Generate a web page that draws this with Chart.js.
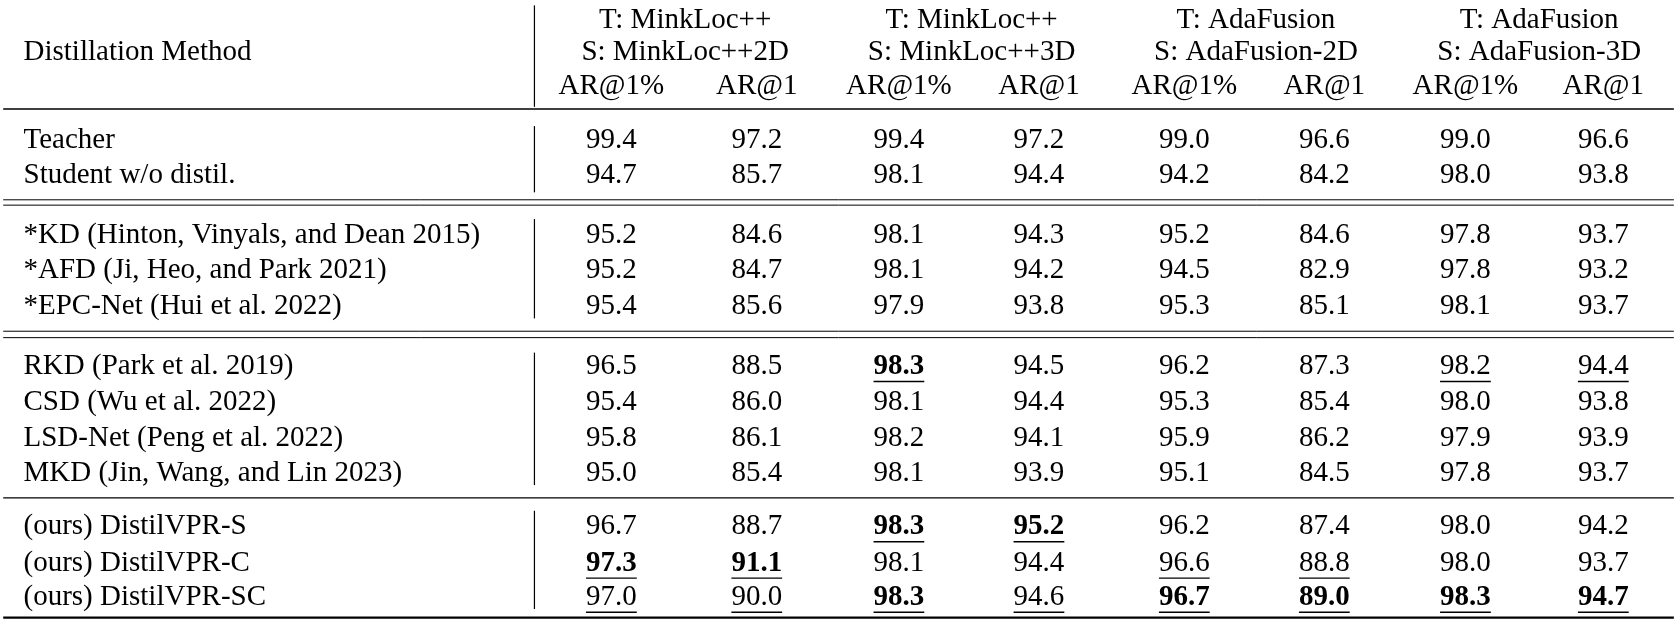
<!DOCTYPE html>
<html><head><meta charset="utf-8">
<script src="https://cdn.jsdelivr.net/npm/chart.js@4/dist/chart.umd.min.js"></script>
<style>html,body{margin:0;padding:0;background:#fff}#w{width:1676px;height:624px}</style>
</head><body><div id="w"><canvas id="c"></canvas></div>
<script>
const methods = ["Teacher","Student w/o distil.","*KD (Hinton, Vinyals, and Dean 2015)","*AFD (Ji, Heo, and Park 2021)","*EPC-Net (Hui et al. 2022)","RKD (Park et al. 2019)","CSD (Wu et al. 2022)","LSD-Net (Peng et al. 2022)","MKD (Jin, Wang, and Lin 2023)","(ours) DistilVPR-S","(ours) DistilVPR-C","(ours) DistilVPR-SC"];
const groups = [["T: MinkLoc++","S: MinkLoc++2D"],["T: MinkLoc++","S: MinkLoc++3D"],["T: AdaFusion","S: AdaFusion-2D"],["T: AdaFusion","S: AdaFusion-3D"]];
const metrics = ["AR@1%","AR@1"];
const values = [
 [99.4,97.2,99.4,97.2,99.0,96.6,99.0,96.6],
 [94.7,85.7,98.1,94.4,94.2,84.2,98.0,93.8],
 [95.2,84.6,98.1,94.3,95.2,84.6,97.8,93.7],
 [95.2,84.7,98.1,94.2,94.5,82.9,97.8,93.2],
 [95.4,85.6,97.9,93.8,95.3,85.1,98.1,93.7],
 [96.5,88.5,98.3,94.5,96.2,87.3,98.2,94.4],
 [95.4,86.0,98.1,94.4,95.3,85.4,98.0,93.8],
 [95.8,86.1,98.2,94.1,95.9,86.2,97.9,93.9],
 [95.0,85.4,98.1,93.9,95.1,84.5,97.8,93.7],
 [96.7,88.7,98.3,95.2,96.2,87.4,98.0,94.2],
 [97.3,91.1,98.1,94.4,96.6,88.8,98.0,93.7],
 [97.0,90.0,98.3,94.6,96.7,89.0,98.3,94.7]
];
const marks = [
 ["","","","","","","",""],["","","","","","","",""],
 ["","","","","","","",""],["","","","","","","",""],["","","","","","","",""],
 ["","","bu","","","","u","u"],["","","","","","","",""],["","","","","","","",""],["","","","","","","",""],
 ["","","bu","bu","","","",""],
 ["bu","bu","","","u","u","",""],
 ["u","u","bu","u","bu","bu","bu","bu"]
];
const colX=[572,708,841,972,1108,1239,1371,1500];
const groupX=[641,909,1175,1440];
const rowY=[131,164,220,253,287,343,377,410,443,493,527,559];
const rules=[[102,1.6],[187,1],[192,1],[310,1],[316,1],[466,1.4],[578,2.2]];
const vsegs=[[5,100],[118,180],[205,298],[330,454],[478,570]];
const FONT='"Liberation Serif","DejaVu Serif",serif';
const FS=29;

const pts=[];
values.forEach((r,i)=>r.forEach((v,j)=>pts.push({x:colX[j],y:rowY[i],v:v,m:marks[i][j]})));

const tablePlugin={id:'table',afterDatasetsDraw(chart){
 const ctx=chart.ctx,xs=chart.scales.x,ys=chart.scales.y;
 const X=v=>xs.getPixelForValue(v),Y=v=>ys.getPixelForValue(v);
 ctx.save();ctx.fillStyle='#000';ctx.strokeStyle='#000';ctx.textBaseline='middle';
 const f=(b)=>(b?'bold ':'')+FS+'px '+FONT;
 ctx.font=f(false);ctx.textAlign='left';
 ctx.fillText("Distillation Method",X(22),Y(49));
 methods.forEach((m,i)=>ctx.fillText(m,X(22),Y(rowY[i])));
 ctx.textAlign='center';
 groups.forEach((g,k)=>{ctx.fillText(g[0],X(groupX[k]),Y(19));ctx.fillText(g[1],X(groupX[k]),Y(49));});
 colX.forEach((x,j)=>ctx.fillText(metrics[j%2],X(x),Y(81)));
 const meta=chart.getDatasetMeta(0);
 meta.data.forEach((el,i)=>{const p=pts[i];const b=p.m.includes('b');
  ctx.font=f(b);const t=p.v.toFixed(1);ctx.fillText(t,el.x,el.y);
  if(p.m.includes('u')){const w=ctx.measureText(t).width;ctx.lineWidth=1.4;ctx.beginPath();ctx.moveTo(el.x-w/2,el.y+15);ctx.lineTo(el.x+w/2,el.y+15);ctx.stroke();}
 });
 rules.forEach(([y,lw])=>{ctx.lineWidth=lw;ctx.beginPath();ctx.moveTo(X(3),Y(y));ctx.lineTo(X(1566),Y(y));ctx.stroke();});
 ctx.lineWidth=1.2;
 vsegs.forEach(([a,b])=>{ctx.beginPath();ctx.moveTo(X(500),Y(a));ctx.lineTo(X(500),Y(b));ctx.stroke();});
 ctx.restore();
}};

new Chart(document.getElementById('c'),{type:'scatter',
 data:{datasets:[{data:pts,pointRadius:0,pointHoverRadius:0}]},
 options:{responsive:true,maintainAspectRatio:false,animation:false,
  layout:{padding:0},
  plugins:{legend:{display:false},tooltip:{enabled:false}},
  scales:{x:{type:'linear',min:0,max:1568,display:false},y:{type:'linear',min:0,max:584,reverse:true,display:false}}},
 plugins:[tablePlugin]});
</script></body></html>
